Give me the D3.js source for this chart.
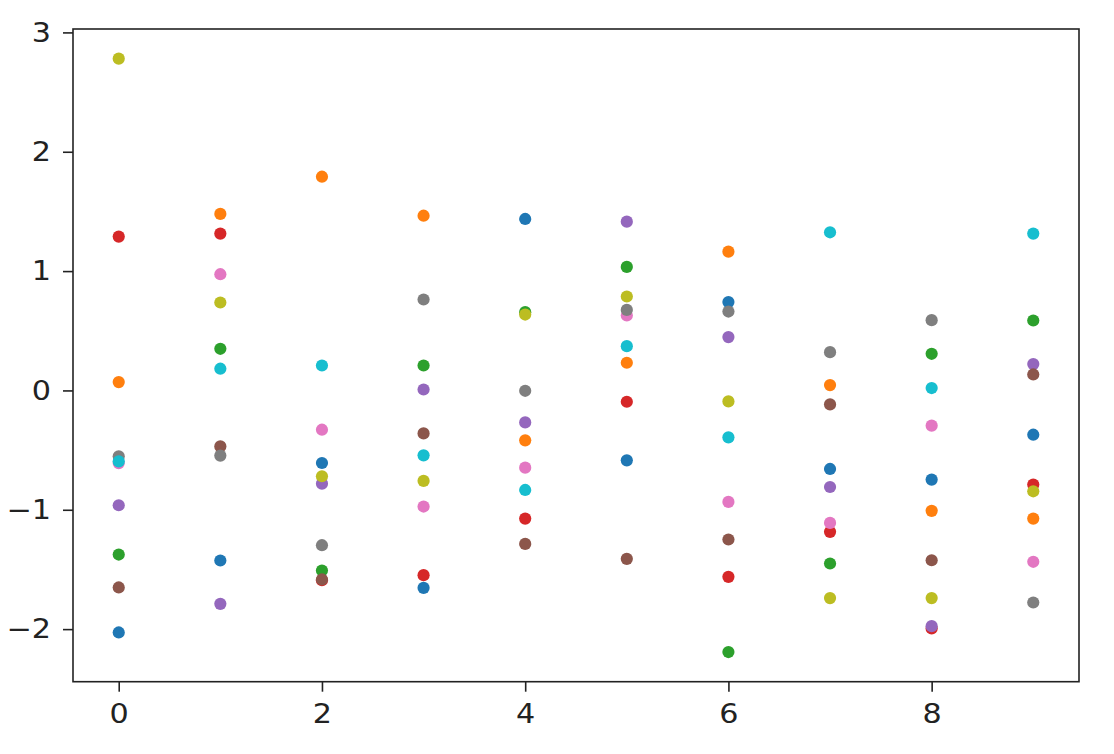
<!DOCTYPE html>
<html>
<head>
<meta charset="utf-8">
<script src="https://cdn.jsdelivr.net/npm/d3@7"></script>
<style>
    body { margin: 0; background: white; }
    text { font-family: "DejaVu Sans", sans-serif; }
</style>
</head>
<body>
<div id="chart1"></div>
<script>
var SVGWidth = 1114;
var SVGHeight = 754;

// plot area (pixels of the figure)
var Left = 73, Right = 1079, Top = 29, Bottom = 681.7;

// one value per x position 0..9 for each series
var xValues = [0, 1, 2, 3, 4, 5, 6, 7, 8, 9];
var blueVals   = [-2.028, -1.425, -0.608, -1.654, 1.437, -0.586, 0.740, -0.658, -0.747, -0.371];
var orangeVals = [0.070, 1.479, 1.791, 1.464, -0.418, 0.232, 1.163, 0.045, -1.009, -1.074];
var greenVals  = [-1.375, 0.349, -1.509, 0.209, 0.656, 1.035, -2.192, -1.450, 0.307, 0.586];
var redVals    = [1.289, 1.314, -1.590, -1.548, -1.074, -0.095, -1.562, -1.185, -1.994, -0.789];
var purpleVals = [-0.962, -1.788, -0.781, 0.008, -0.268, 1.414, 0.447, -0.809, -1.975, 0.221];
var brownVals  = [-1.651, -0.469, -1.584, -0.360, -1.286, -1.411, -1.249, -0.117, -1.423, 0.134];
var pinkVals   = [-0.609, 0.974, -0.329, -0.973, -0.647, 0.628, -0.934, -1.110, -0.295, -1.436];
var grayVals   = [-0.552, -0.546, -1.297, 0.762, -0.003, 0.675, 0.661, 0.321, 0.589, -1.777];
var oliveVals  = [2.780, 0.737, -0.719, -0.758, 0.636, 0.787, -0.092, -1.740, -1.740, -0.845];
var cyanVals   = [-0.594, 0.182, 0.209, -0.544, -0.834, 0.371, -0.393, 1.325, 0.020, 1.314];

var seriesList = [blueVals, orangeVals, greenVals, redVals, purpleVals,
                  brownVals, pinkVals, grayVals, oliveVals, cyanVals];
var colors = ["#1f77b4", "#ff7f0e", "#2ca02c", "#d62728", "#9467bd",
              "#8c564b", "#e377c2", "#7f7f7f", "#bcbd22", "#17becf"];

var xTicks = [0, 2, 4, 6, 8];
var yTicks = [-2, -1, 0, 1, 2, 3];

// horizontal stretch of the reference text
var Stretch = 1.12;

var svg = d3.select("#chart1")
    .append("svg")
        .attr("width", SVGWidth)
        .attr("height", SVGHeight);

// matplotlib style 5% margins
var allVals = d3.merge(seriesList);
var yMin = d3.min(allVals), yMax = d3.max(allVals);
var yPad = (yMax - yMin) * 0.05;
var xPad = (d3.max(xValues) - d3.min(xValues)) * 0.05;

var x = d3.scaleLinear()
    .domain([d3.min(xValues) - xPad, d3.max(xValues) + xPad])
    .range([Left, Right]);

var y = d3.scaleLinear()
    .domain([yMin - yPad, yMax + yPad])
    .range([Bottom, Top]);

// points, series drawn in order so later ones sit on top
for (var s = 0; s < seriesList.length; s++) {
    svg.append("g")
        .selectAll("circle")
        .data(seriesList[s])
        .enter()
        .append("circle")
        .attr("cx", function(d, i) { return x(xValues[i]); })
        .attr("cy", function(d) { return y(d); })
        .attr("r", 6.1)
        .attr("fill", colors[s]);
}

var intFormat = d3.format("d");

// Left axis
var yAxis = svg.append("g")
    .attr("transform", "translate(" + Left + ",0)")
    .call(d3.axisLeft(y).tickValues(yTicks).tickFormat(intFormat).tickSize(10).tickPadding(11));

// Bottom axis
var xAxis = svg.append("g")
    .attr("transform", "translate(0," + Bottom + ")")
    .call(d3.axisBottom(x).tickValues(xTicks).tickFormat(intFormat).tickSize(10).tickPadding(12));

[yAxis, xAxis].forEach(function(ax) {
    ax.select(".domain").remove();
    ax.selectAll("line").attr("stroke", "#222").attr("stroke-width", 1.6);
    ax.selectAll("text")
        .attr("fill", "#222")
        .style("font-size", "27px");
});

// stretch labels a bit wider, keep the anchor where d3 put it
yAxis.selectAll("text")
    .attr("x", -22 / Stretch)
    .attr("transform", "scale(" + Stretch + ",1)");
xAxis.selectAll("text")
    .attr("transform", "scale(" + Stretch + ",1)");

// frame
svg.append("rect")
    .attr("x", Left)
    .attr("y", Top)
    .attr("width", Right - Left)
    .attr("height", Bottom - Top)
    .attr("fill", "none")
    .attr("stroke", "#222")
    .attr("stroke-width", 1.6);
</script>
</body>
</html>
